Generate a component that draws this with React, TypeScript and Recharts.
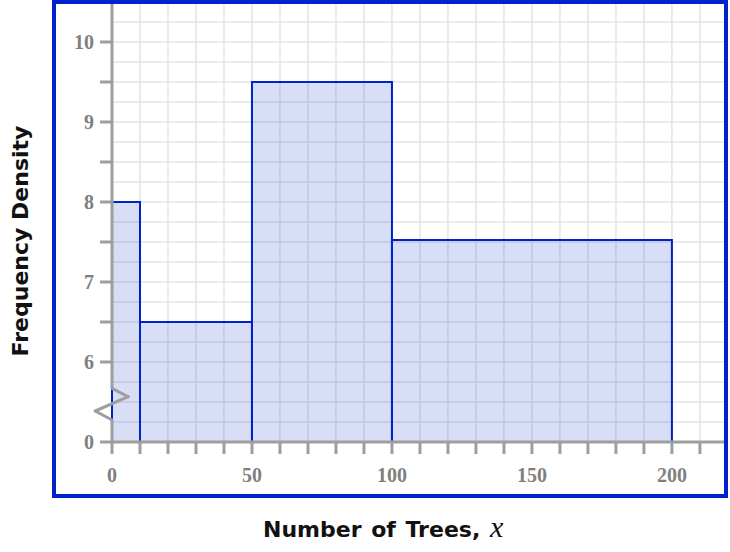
import { ComposedChart, XAxis, YAxis, CartesianGrid, ReferenceArea, ReferenceLine, Line } from "recharts";

// class intervals (number of trees) and their frequency densities
const binStarts = [0, 10, 50, 100];
const binEnds = [10, 50, 100, 200];
const densities = [8, 6.5, 9.5, 7.525];

// axis ticks; the y axis is broken, so value 5 is drawn as "0"
const xTicks = [0, 10, 20, 30, 40, 50, 60, 70, 80, 90, 100, 110, 120, 130, 140, 150, 160, 170, 180, 190, 200, 210];
const yTicks = [5, 6, 6.5, 7, 7.5, 8, 8.5, 9, 9.5, 10];
const yLabels: Record<number, string> = { 5: "0", 6: "6", 7: "7", 8: "8", 9: "9", 10: "10" };

const BREAK = 5;
const X_MAX = 218.6;
const Y_MAX = 10.475;

const gridX = Array.from({ length: 22 }, (_, i) => i * 10);
const gridY = Array.from({ length: 22 }, (_, i) => BREAK + i * 0.25);

const GREY = "#9e9e9e";
const BLUE = "#0022cc";
const tickFont = { fill: "#7f7f7f", fontFamily: "Liberation Serif", fontWeight: "bold", fontSize: 20 };

// zig-zag break marker on the y axis, in data coordinates
const zig = [
  { x: 0, y: 5.671 },
  { x: 5.8, y: 5.566 },
  { x: -6, y: 5.3875 },
  { x: 0, y: 5.275 },
];

export default function App() {
  const bins = binStarts.map((s, i) => ({ start: s, end: binEnds[i], density: densities[i] }));

  return (
    <div style={{ position: "absolute", left: 0, top: 0, width: 730, height: 552, background: "#fff" }}>
      <ComposedChart width={730} height={552} data={bins} margin={{ top: 4, right: 6, bottom: 70, left: 52 }}>
        <CartesianGrid horizontalValues={gridY} verticalValues={gridX} stroke="#e4e4e4" strokeWidth={1.5} />
        <XAxis
          type="number"
          dataKey="start"
          domain={[0, X_MAX]}
          allowDataOverflow
          ticks={xTicks}
          interval={0}
          tickFormatter={(v: number) => (v % 50 === 0 ? String(v) : "")}
          axisLine={{ stroke: GREY, strokeWidth: 3 }}
          tickLine={{ stroke: GREY, strokeWidth: 3 }}
          tickSize={12}
          tickMargin={14}
          height={40}
          tick={tickFont}
        />
        <YAxis
          type="number"
          domain={[BREAK, Y_MAX]}
          allowDataOverflow
          ticks={yTicks}
          interval={0}
          tickFormatter={(v: number) => yLabels[v] ?? ""}
          axisLine={false}
          tickLine={{ stroke: GREY, strokeWidth: 3 }}
          tickSize={12}
          tickMargin={6}
          width={60}
          tick={tickFont}
        />
        {bins.map((b) => (
          <ReferenceArea
            key={b.start}
            x1={b.start}
            x2={b.end}
            y1={BREAK}
            y2={b.density}
            fill={BLUE}
            fillOpacity={0.15}
            stroke={BLUE}
            strokeWidth={2}
            ifOverflow="visible"
          />
        ))}
        <Line dataKey="density" stroke="none" dot={false} activeDot={false} isAnimationActive={false} />
        <ReferenceLine segment={[{ x: 0, y: BREAK }, { x: 0, y: 5.275 }]} stroke={GREY} strokeWidth={3} ifOverflow="visible" />
        <ReferenceLine segment={[{ x: 0, y: 5.671 }, { x: 0, y: Y_MAX }]} stroke={GREY} strokeWidth={3} ifOverflow="visible" />
        {zig.slice(1).map((p, i) => (
          <ReferenceLine
            key={i}
            segment={[zig[i], p]}
            stroke={GREY}
            strokeWidth={3}
            strokeLinecap="round"
            ifOverflow="visible"
          />
        ))}
      </ComposedChart>
      <div
        style={{
          position: "absolute",
          left: 52,
          top: 0,
          width: 676,
          height: 498,
          border: `4px solid ${BLUE}`,
          boxSizing: "border-box",
          pointerEvents: "none",
        }}
      />
      <svg width={730} height={552} style={{ position: "absolute", left: 0, top: 0, pointerEvents: "none" }}>
        <text
          x={28}
          y={241}
          transform="rotate(-90 28 241)"
          textAnchor="middle"
          fontFamily="DejaVu Sans"
          fontWeight="bold"
          fontSize={22}
          fill="#111"
        >
          Frequency Density
        </text>
        <text x={263} y={537} fontFamily="DejaVu Sans" fontWeight="bold" fontSize={22} wordSpacing={2} fill="#111">
          Number of Trees,{" "}
          <tspan fontFamily="Liberation Serif" fontStyle="italic" fontWeight="normal" fontSize={30}>
            x
          </tspan>
        </text>
      </svg>
    </div>
  );
}
